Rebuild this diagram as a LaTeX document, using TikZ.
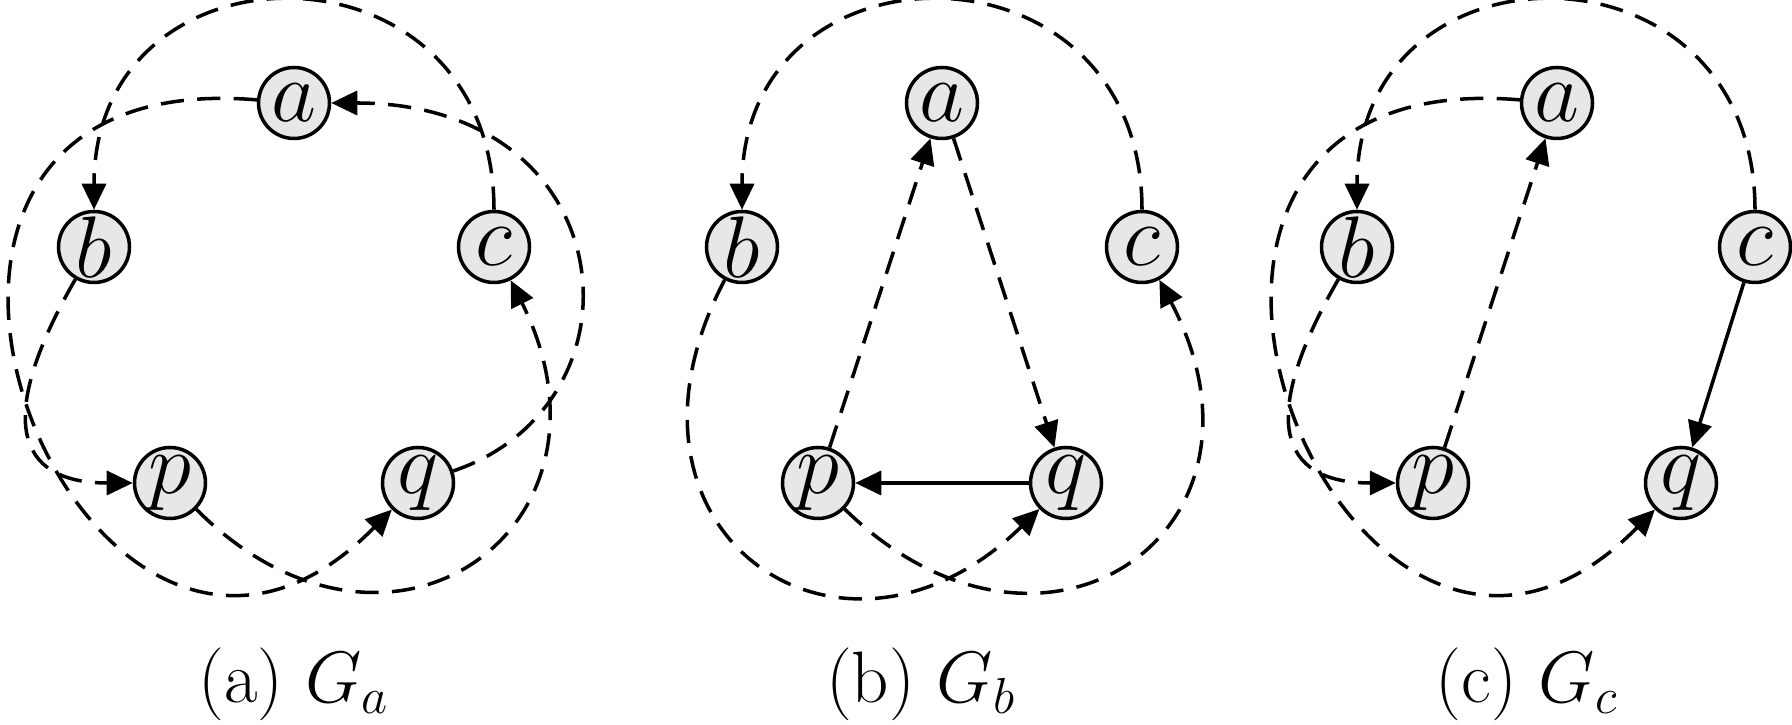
\documentclass[tikz,border=0pt]{standalone}
\usepackage{tikz}
\usetikzlibrary{arrows.meta}
\definecolor{nodefill}{HTML}{E6E7E9}
\tikzset{
  vertex/.style={circle, draw=black, fill=nodefill, line width=1pt, minimum size=7.1mm, inner sep=0pt, font=\fontsize{24.88}{28}\selectfont},
  dashedge/.style={draw=black, line width=1pt, dash pattern=on 6.6pt off 3.8pt, -{Triangle[length=2.6mm,width=2.4mm]}},
  solidedge/.style={draw=black, line width=1pt, -{Triangle[length=2.6mm,width=2.4mm]}},
  caplabel/.style={font=\fontsize{20.74}{24}\selectfont, anchor=base},
}

\begin{document}
\begin{tikzpicture}
  \useasboundingbox (0,0) rectangle (17.92,7.25);

  % (a)
  \node[vertex] (a1) at (2.94,6.22) {$a$};
  \node[vertex] (b1) at (0.94,4.78) {$b$};
  \node[vertex] (c1) at (4.94,4.78) {$c$};
  \node[vertex] (p1) at (1.70,2.42) {$p$};
  \node[vertex] (q1) at (4.18,2.42) {$q$};

  \draw[dashedge] (c1) .. controls +(0,3.15) and +(0,3.15) .. (b1);
  \draw[dashedge] (a1) .. controls +(-5.13,0.43) and +(-3.35,-3.4) .. (q1);
  \draw[dashedge] (b1) .. controls +(-0.98,-1.70) and +(-1.56,0) .. (p1);
  \draw[dashedge] (p1) .. controls +(2.2,-2.2) and +(1.4,-2.8) .. (c1);
  \draw[dashedge] (q1) .. controls +(2.35,0.8) and +(3.3,0) .. (a1);
  \node[caplabel] (capA) at (2.94,0.22) {(a) $G_a$};

  % (b)
  \node[vertex] (a2) at (9.42,6.22) {$a$};
  \node[vertex] (b2) at (7.42,4.78) {$b$};
  \node[vertex] (c2) at (11.42,4.78) {$c$};
  \node[vertex] (p2) at (8.18,2.42) {$p$};
  \node[vertex] (q2) at (10.66,2.42) {$q$};

  \draw[dashedge] (c2) .. controls +(0,3.15) and +(0,3.15) .. (b2);
  \draw[dashedge] (b2) .. controls +(-1.5,-2.85) and +(-2.25,-2.2) .. (q2);
  \draw[dashedge] (p2) .. controls +(2.25,-2.2) and +(1.5,-2.85) .. (c2);
  \draw[dashedge] (p2) -- (a2);
  \draw[dashedge] (a2) -- (q2);
  \draw[solidedge] (q2) -- (p2);
  \node[caplabel] (capB) at (9.21,0.22) {(b) $G_b$};

  % (c)
  \node[vertex] (a3) at (15.57,6.22) {$a$};
  \node[vertex] (b3) at (13.57,4.78) {$b$};
  \node[vertex] (c3) at (17.55,4.78) {$c$};
  \node[vertex] (p3) at (14.33,2.42) {$p$};
  \node[vertex] (q3) at (16.81,2.42) {$q$};

  \draw[dashedge] (c3) .. controls +(0,3.15) and +(0,3.15) .. (b3);
  \draw[dashedge] (a3) .. controls +(-5.13,0.43) and +(-3.35,-3.4) .. (q3);
  \draw[dashedge] (b3) .. controls +(-0.98,-1.70) and +(-1.56,0) .. (p3);
  \draw[dashedge] (p3) -- (a3);
  \draw[solidedge] (c3) -- (q3);
  \node[caplabel] (capC) at (15.27,0.22) {(c) $G_c$};
\end{tikzpicture}
\end{document}
